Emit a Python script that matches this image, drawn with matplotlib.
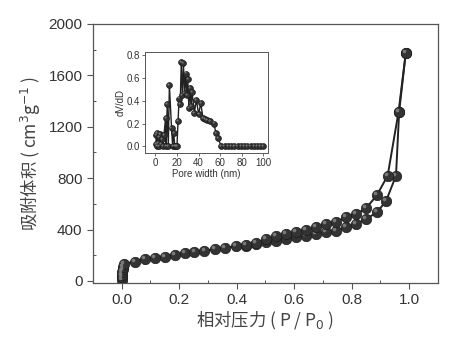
import matplotlib
matplotlib.use('Agg')
import matplotlib.pyplot as plt
from matplotlib.ticker import MultipleLocator, FormatStrFormatter
from matplotlib.transforms import offset_copy

plt.rcParams['font.family'] = ['Liberation Sans', 'Noto Sans CJK SC', 'DejaVu Sans']

# adsorption branch
ads_x = [0.0002, 0.0005, 0.001, 0.002, 0.003, 0.005, 0.007, 0.045, 0.08, 0.115, 0.149,
         0.184, 0.219, 0.253, 0.288, 0.323, 0.358, 0.398, 0.433, 0.468, 0.502, 0.537,
         0.572, 0.607, 0.641, 0.676, 0.711, 0.746, 0.78, 0.815, 0.85, 0.888, 0.92,
         0.954, 0.965, 0.988]
ads_y = [10, 30, 50, 70, 90, 110, 132, 150, 171, 176, 189, 202, 215, 223, 236, 249,
         257, 270, 275, 288, 301, 314, 327, 340, 350, 366, 379, 392, 418, 443, 482,
         534, 625, 819, 1317, 1774]
# desorption branch
des_x = [0.988, 0.963, 0.925, 0.888, 0.85, 0.815, 0.78, 0.746, 0.711, 0.676, 0.641,
         0.607, 0.572, 0.537, 0.502, 0.468, 0.433]
des_y = [1774, 1317, 819, 669, 565, 521, 495, 461, 443, 418, 397, 379, 366, 348,
         327, 295, 280]

# pore size distribution (inset)
pw = [0.5, 1, 1.5, 2, 2.5, 3, 3.5, 4, 5, 6, 7, 8, 9.5, 10, 11, 12, 13, 15, 16, 17,
      18, 19, 20, 21, 22, 23, 24, 25, 26, 27, 28, 29, 30, 31, 32, 33, 34, 36, 38,
      40, 42, 44, 46, 48, 51, 54, 56, 58, 61, 64, 67, 70, 73, 76, 79, 82, 85, 88,
      91, 94, 97, 100]
dvdd = [0.02, 0.10, 0.0, 0.12, 0.03, 0.08, 0.0, 0.11, 0.02, 0.06, 0.0, 0.10, 0.25,
        0.0, 0.37, 0.0, 0.54, 0.16, 0.0, 0.12, 0.0, 0.0, 0.0, 0.22, 0.42, 0.37, 0.74,
        0.45, 0.73, 0.47, 0.64, 0.45, 0.59, 0.34, 0.51, 0.35, 0.48, 0.29, 0.41, 0.28,
        0.38, 0.25, 0.24, 0.23, 0.22, 0.20, 0.12, 0.07, 0.0, 0.0, 0.0, 0.0, 0.0, 0.0,
        0.0, 0.0, 0.0, 0.0, 0.0, 0.0, 0.0, 0.0]

fig = plt.figure(figsize=(4.74, 3.51), dpi=100)
ax = fig.add_axes([0.196, 0.194, 0.728, 0.738])

mk = dict(marker='o', mfc='#333333', mec='#1a1a1a', mew=0.5, color='#222222')


def balls(a, x, y, ms, lw):
    # dark spheres with a small highlight, to look like the shaded markers
    a.plot(x, y, ms=ms, lw=lw, **mk)
    hl = offset_copy(a.transData, fig=fig, x=-ms * 0.18, y=ms * 0.18, units='points')
    a.plot(x, y, ls='none', marker='o', ms=ms * 0.35, mfc='#8c8c8c', mec='none',
           alpha=0.8, transform=hl)


balls(ax, ads_x, ads_y, 7.5, 1.4)
balls(ax, des_x, des_y, 7.5, 1.4)

ax.set_xlim(-0.1, 1.1)
ax.set_ylim(-15, 2000)
ax.xaxis.set_major_locator(MultipleLocator(0.2))
ax.xaxis.set_minor_locator(MultipleLocator(0.1))
ax.yaxis.set_major_locator(MultipleLocator(400))
ax.yaxis.set_minor_locator(MultipleLocator(200))
ax.xaxis.set_major_formatter(FormatStrFormatter('%.1f'))
ax.tick_params(which='major', direction='out', length=4, width=0.8, labelsize=11,
               colors='#555555', labelcolor='#333333')
ax.tick_params(which='minor', direction='in', length=2.5, width=0.7, colors='#555555')
for s in ax.spines.values():
    s.set_color('#555555')
    s.set_linewidth(0.9)

ax.set_xlabel('相对压力 ( P / P$_0$ )', fontsize=12.5, color='#444444',
              family=['Noto Sans CJK SC', 'DejaVu Sans'], labelpad=2)
ax.set_ylabel('吸附体积 ( cm$^3$g$^{-1}$ )', fontsize=12.5, color='#444444',
              family=['Noto Sans CJK SC', 'DejaVu Sans'], labelpad=4)

# inset
axin = fig.add_axes([0.306, 0.564, 0.259, 0.288])
balls(axin, pw, dvdd, 4.2, 1.0)
axin.set_xlim(-9.5, 104)
axin.set_ylim(-0.06, 0.83)
axin.xaxis.set_major_locator(MultipleLocator(20))
axin.yaxis.set_major_locator(MultipleLocator(0.2))
axin.yaxis.set_major_formatter(FormatStrFormatter('%.1f'))
axin.tick_params(direction='out', length=2, width=0.6, labelsize=7, pad=1.5,
                 colors='#555555', labelcolor='#333333')
for s in axin.spines.values():
    s.set_color('#555555')
    s.set_linewidth(0.7)
axin.set_xlabel('Pore width (nm)', fontsize=7, color='#333333', labelpad=1)
axin.set_ylabel('dV/dD', fontsize=7, color='#333333', labelpad=1)

fig.savefig('out.png', dpi=100)
